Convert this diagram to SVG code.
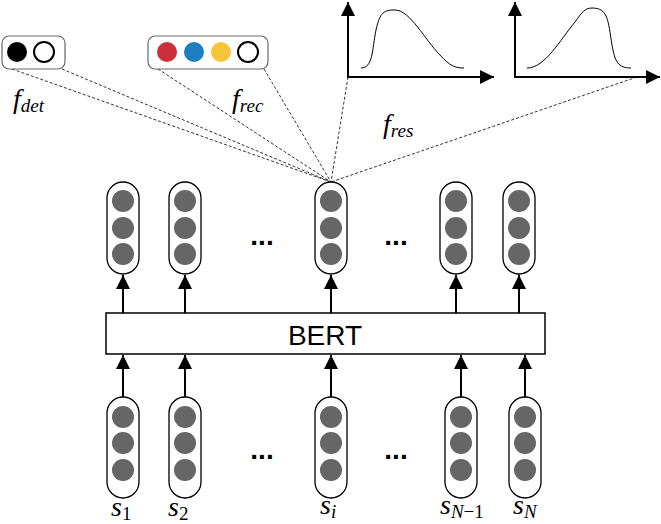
<svg xmlns="http://www.w3.org/2000/svg" width="661" height="524" viewBox="0 0 661 524">
<style>
.cap{fill:#fff;stroke:#000;stroke-width:1.3}
.dot{fill:#666}
.box{fill:#fff;stroke:#666;stroke-width:1.2}
.ln{stroke:#000;stroke-width:2;fill:none}
.dash{stroke:#333;stroke-width:1;stroke-dasharray:3,2;fill:none}
.m{font-family:"Liberation Serif",serif;font-style:italic;font-size:28px}
.sub{font-size:19px}
.ell{font-family:"Liberation Sans",sans-serif;font-size:28px;font-weight:bold}
</style>
<defs>
<marker id="ah" viewBox="0 0 10 10" refX="10" refY="5" markerWidth="7" markerHeight="7" markerUnits="strokeWidth" orient="auto"><path d="M0,0L10,5L0,10z"/></marker>
<g id="capT"><rect class="cap" x="-16" y="0" width="32" height="92" rx="16"/><circle class="dot" cx="0" cy="19" r="11"/><circle class="dot" cx="0" cy="46" r="11"/><circle class="dot" cx="0" cy="72" r="11"/></g>
<g id="capB"><rect class="cap" x="-16" y="0" width="32" height="101" rx="16"/><circle class="dot" cx="0" cy="20" r="11"/><circle class="dot" cx="0" cy="46" r="11"/><circle class="dot" cx="0" cy="73" r="11"/></g>
</defs>
<g id="connectors">
<path class="ln" marker-end="url(#ah)" d="M123,313V275"/>
<path class="ln" marker-end="url(#ah)" d="M185,313V275"/>
<path class="ln" marker-end="url(#ah)" d="M331,313V275"/>
<path class="ln" marker-end="url(#ah)" d="M456,313V275"/>
<path class="ln" marker-end="url(#ah)" d="M519,313V275"/>
<path class="ln" marker-end="url(#ah)" d="M123,397V355"/>
<path class="ln" marker-end="url(#ah)" d="M185,397V355"/>
<path class="ln" marker-end="url(#ah)" d="M331,397V355"/>
<path class="ln" marker-end="url(#ah)" d="M461,397V355"/>
<path class="ln" marker-end="url(#ah)" d="M525,397V355"/>
<path class="dash" d="M12,69L331,182M62,69L331,182M158,69L331,182M264,69L331,182M348,77L331,182M637,77L331,182"/>
</g>
<g id="out1"><use href="#capT" x="123" y="182"/></g>
<g id="out2"><use href="#capT" x="185" y="182"/></g>
<g id="outi"><use href="#capT" x="331" y="182"/></g>
<g id="outN1"><use href="#capT" x="456" y="182"/></g>
<g id="outN"><use href="#capT" x="519" y="182"/></g>
<g id="in1"><use href="#capB" x="123" y="397"/></g>
<g id="in2"><use href="#capB" x="185" y="397"/></g>
<g id="ini"><use href="#capB" x="331" y="397"/></g>
<g id="inN1"><use href="#capB" x="461" y="397"/></g>
<g id="inN"><use href="#capB" x="525" y="397"/></g>
<g id="bert"><rect x="106" y="313" width="439" height="41" fill="#fff" stroke="#000" stroke-width="1.5"/><text x="325" y="345" text-anchor="middle" font-family="Liberation Sans,sans-serif" font-size="28">BERT</text></g>
<g id="ellipses"><text class="ell" x="262" y="245" text-anchor="middle">...</text><text class="ell" x="396" y="245" text-anchor="middle">...</text><text class="ell" x="262" y="459" text-anchor="middle">...</text><text class="ell" x="396" y="459" text-anchor="middle">...</text></g>
<g id="labels">
<text class="m" x="111" y="516">s<tspan class="sub" font-style="normal" dy="4">1</tspan></text>
<text class="m" x="168" y="516">s<tspan class="sub" font-style="normal" dy="4">2</tspan></text>
<text class="m" x="320" y="514">s<tspan class="sub" dy="4">i</tspan></text>
<text class="m" x="440" y="514">s<tspan class="sub" dy="4">N</tspan><tspan class="sub" font-style="normal">−1</tspan></text>
<text class="m" x="513" y="514">s<tspan class="sub" dy="4">N</tspan></text>
</g>
<g id="fdet"><rect class="box" x="2" y="36" width="63" height="33" rx="7"/><circle cx="17" cy="52" r="10" fill="#000"/><circle cx="44" cy="52" r="10" fill="#fff" stroke="#000" stroke-width="2"/>
<text class="m" x="13" y="108">f<tspan class="sub" dy="4">det</tspan></text></g>
<g id="frec"><rect class="box" x="148" y="36" width="120" height="33" rx="7"/><circle cx="167" cy="52" r="10" fill="#c9303c"/><circle cx="194" cy="52" r="10" fill="#1d7fc0"/><circle cx="221" cy="52" r="10" fill="#f8c43a"/><circle cx="248" cy="52" r="10" fill="#fff" stroke="#000" stroke-width="2"/>
<text class="m" x="232" y="108">f<tspan class="sub" dy="4">rec</tspan></text></g>
<g id="fres">
<path class="ln" marker-end="url(#ah)" d="M348,77V2"/>
<path class="ln" marker-end="url(#ah)" d="M347,77H494"/>
<path fill="none" stroke="#000" stroke-width="1" d="M361,68C373,68 372,50 376,30C380,12 384,10 395,10C410,10 425,40 440,55C450,66 455,68 464,68"/>
<path class="ln" marker-end="url(#ah)" d="M515,77V2"/>
<path class="ln" marker-end="url(#ah)" d="M514,77H660"/>
<path fill="none" stroke="#000" stroke-width="1" d="M527,68C545,68 560,40 575,22C582,12 585,8 592,8C608,8 608,20 612,45C615,62 618,68 631,68"/>
<text class="m" x="383" y="133">f<tspan class="sub" dy="4">res</tspan></text>
</g>
</svg>
